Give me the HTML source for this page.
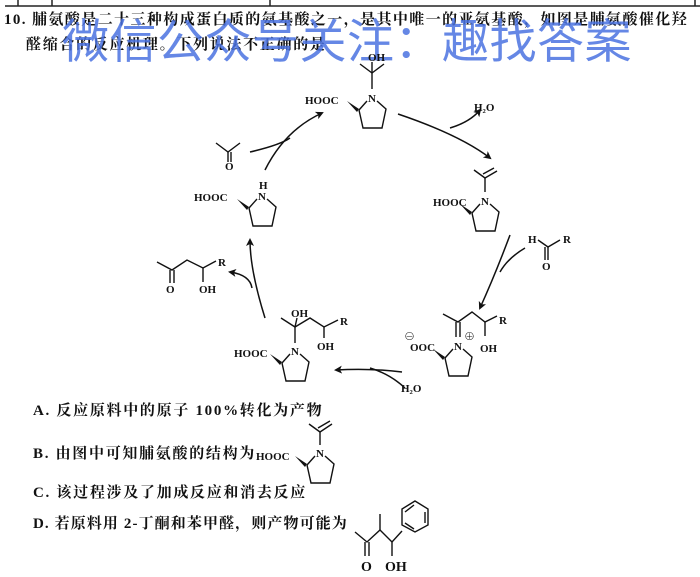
<!DOCTYPE html>
<html><head><meta charset="utf-8"><style>
html,body{margin:0;padding:0;background:#fff;}
svg{display:block;}
text{font-family:"Liberation Serif","Noto Serif CJK SC",serif;fill:#111;}
.cn{font-size:15px;font-weight:bold;letter-spacing:1.7px;font-family:"Liberation Serif","Noto Serif CJK SC","Noto Sans CJK SC",serif;}
.ch{font-size:11px;font-weight:bold;}
.wm{font-family:"Liberation Sans","Noto Sans CJK SC",sans-serif;font-size:47px;letter-spacing:0.5px;fill:#4a72e0;fill-opacity:0.85;}
</style></head><body>
<svg width="700" height="577" viewBox="0 0 700 577" xmlns="http://www.w3.org/2000/svg">
<defs>
<marker id="ah" markerWidth="8" markerHeight="8" refX="6" refY="4" orient="auto" markerUnits="userSpaceOnUse">
<path d="M0,0 L8,4 L0,8 L2,4 Z" fill="#111"/></marker>
<g id="pro">
<path d="M-13,13 L-9,31 L10,31 L14,12 L5,4" fill="none" stroke="#111" stroke-width="1.4"/>
<path d="M-5,4 L-13,13" stroke="#111" stroke-width="1.4"/>
<path d="M-25,4 L-13,12 L-15,15 Z" fill="#111"/>
<text x="0" y="5" class="ch" text-anchor="middle">N</text>
</g>
</defs>
<g stroke="#222" stroke-width="1.5" fill="none">
<line x1="5" y1="6" x2="700" y2="6"/>
<line x1="18" y1="0" x2="18" y2="6"/><line x1="52" y1="0" x2="52" y2="6"/><line x1="270" y1="0" x2="270" y2="6"/><line x1="695" y1="0" x2="695" y2="6"/>
</g>
<text x="4" y="24" class="cn" style="letter-spacing:1.4px">10. 脯氨酸是二十三种构成蛋白质的氨基酸之一，是其中唯一的亚氨基酸，如图是脯氨酸催化羟</text>
<text x="26" y="49" class="cn">醛缩合的反应机理。下列说法不正确的是</text>
<text x="62" y="58" class="wm">微信公众号关注：趣找答案</text>

<g stroke="#111" stroke-width="1.4" fill="none">
<line x1="372" y1="89" x2="372" y2="73"/><line x1="372" y1="73" x2="360" y2="64"/><line x1="372" y1="73" x2="384" y2="64"/><line x1="372" y1="73" x2="372" y2="62"/>
<line x1="485" y1="192" x2="485" y2="178"/><line x1="485" y1="178" x2="474" y2="170"/><line x1="485" y1="178" x2="497" y2="171"/><line x1="483" y1="174" x2="494" y2="168"/>
<path d="M538,240 L548,247 L560,240"/><line x1="548" y1="247" x2="548" y2="260"/><line x1="545" y1="247" x2="545" y2="260"/>
<path d="M216,143 L228,152 L240,143"/><line x1="228" y1="152" x2="228" y2="162"/><line x1="231" y1="152" x2="231" y2="162"/>
<path d="M157,262 L172,270 L187,260 L203,268 L216,261"/><line x1="170" y1="270" x2="170" y2="283"/><line x1="174" y1="270" x2="174" y2="283"/><line x1="203" y1="268" x2="203" y2="282"/>
<line x1="295" y1="343" x2="295" y2="327"/><path d="M281,318 L295,327 L310,318 L324,327 L338,320"/><line x1="295" y1="327" x2="297" y2="318"/><line x1="324" y1="327" x2="324" y2="338"/>
<line x1="456" y1="337" x2="456" y2="322"/><line x1="460" y1="337" x2="460" y2="322"/><path d="M443,314 L458,322 L472,312 L485,322 L497,316"/><line x1="485" y1="322" x2="485" y2="336"/>
<path d="M355,532 L367,542 L380,530 L392,542 L402,531"/><line x1="380" y1="530" x2="380" y2="514"/><line x1="365" y1="542" x2="365" y2="556"/><line x1="369" y1="542" x2="369" y2="556"/><line x1="392" y1="542" x2="392" y2="556"/>
<polygon points="415,501 428,509 428,525 415,532 402,525 402,509"/>
<line x1="425" y1="512" x2="425" y2="523"/><line x1="405" y1="512" x2="414" y2="505"/><line x1="405" y1="523" x2="414" y2="529"/>
<line x1="320" y1="445" x2="320" y2="432"/><line x1="320" y1="432" x2="309" y2="424"/><line x1="320" y1="432" x2="332" y2="424"/><line x1="318" y1="428" x2="330" y2="421"/>
</g>
<use href="#pro" x="372" y="97"/>
<use href="#pro" x="485" y="200"/>
<use href="#pro" x="262" y="195"/>
<use href="#pro" x="458" y="345"/>
<use href="#pro" x="295" y="350"/>
<use href="#pro" x="320" y="452"/>

<text x="368" y="61" class="ch">OH</text>
<text x="305" y="104" class="ch">HOOC</text>
<text x="433" y="206" class="ch">HOOC</text>
<text x="194" y="201" class="ch">HOOC</text>
<text x="259" y="189" class="ch">H</text>
<text x="474" y="111" class="ch">H₂O</text>
<text x="528" y="243" class="ch">H</text>
<text x="563" y="243" class="ch">R</text>
<text x="542" y="270" class="ch">O</text>
<text x="225" y="170" class="ch">O</text>
<text x="166" y="293" class="ch">O</text>
<text x="199" y="293" class="ch">OH</text>
<text x="218" y="266" class="ch">R</text>
<text x="234" y="357" class="ch">HOOC</text>
<text x="291" y="317" class="ch">OH</text>
<text x="340" y="325" class="ch">R</text>
<text x="317" y="350" class="ch">OH</text>
<text x="410" y="351" class="ch">OOC</text>
<text x="404" y="340" class="ch">⊖</text>
<text x="464" y="340" class="ch">⊕</text>
<text x="499" y="324" class="ch">R</text>
<text x="480" y="352" class="ch">OH</text>
<text x="401" y="392" class="ch">H₂O</text>

<g stroke="#111" stroke-width="1.5" fill="none">
<path d="M250,152 Q280,145 290,138" /><path d="M265,170 Q285,130 322,113" marker-end="url(#ah)"/>
<path d="M398,114 Q460,135 490,158" marker-end="url(#ah)"/><path d="M450,128 Q470,122 480,110" marker-end="url(#ah)"/>
<path d="M510,235 Q495,275 480,308" marker-end="url(#ah)"/><path d="M525,248 Q508,258 500,272"/>
<path d="M402,372 Q370,368 336,370" marker-end="url(#ah)"/><path d="M405,388 Q390,374 370,368"/>
<path d="M265,318 Q250,270 250,240" marker-end="url(#ah)"/><path d="M252,288 Q250,275 230,272" marker-end="url(#ah)"/>
</g>

<text x="33" y="415" class="cn">A. 反应原料中的原子 100%转化为产物</text>
<text x="33" y="458" class="cn">B. 由图中可知脯氨酸的结构为</text>
<text x="256" y="460" class="ch">HOOC</text>
<text x="33" y="497" class="cn">C. 该过程涉及了加成反应和消去反应</text>
<text x="33" y="528" class="cn" style="letter-spacing:1.1px">D. 若原料用 2-丁酮和苯甲醛，则产物可能为</text>
<text x="361" y="571" style="font-size:14px;font-weight:bold">O</text>
<text x="385" y="571" style="font-size:14px;font-weight:bold">OH</text>
</svg>
</body></html>
